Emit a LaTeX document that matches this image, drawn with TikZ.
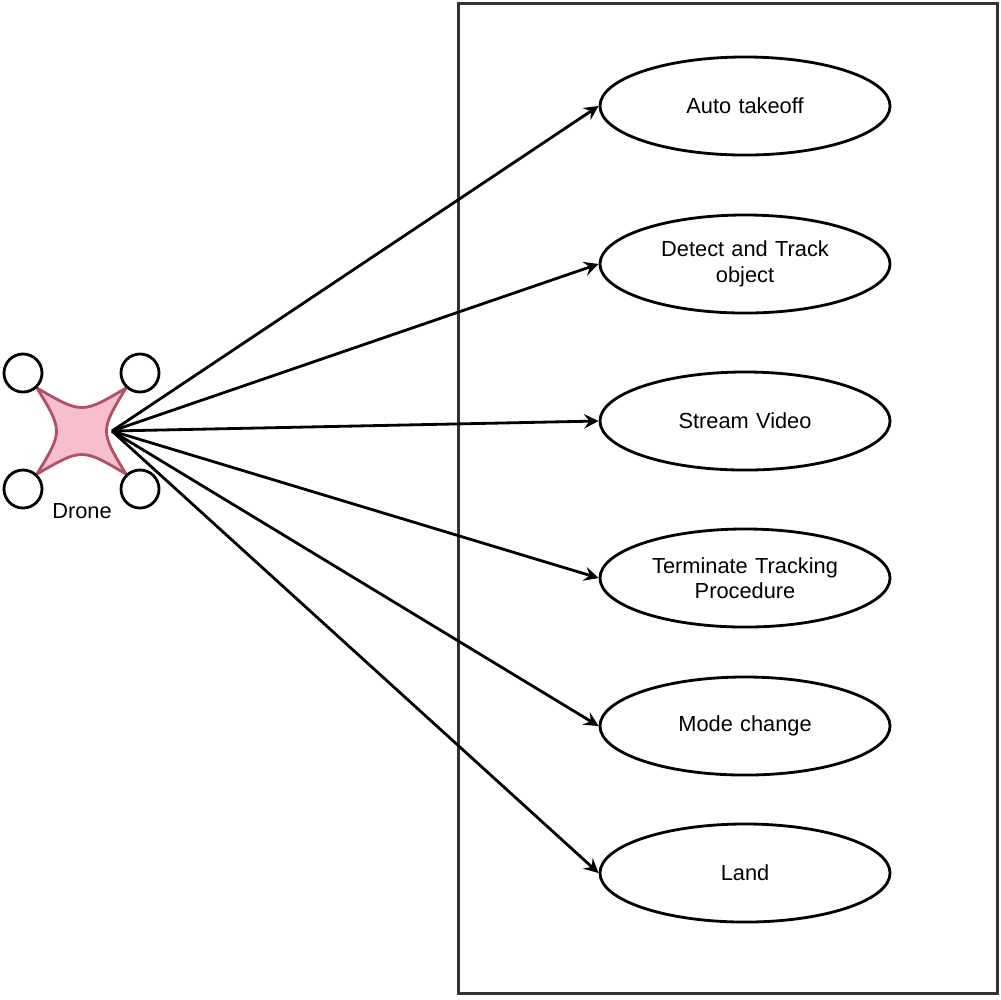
\documentclass[tikz,border=0pt]{standalone}
\usepackage{fontspec}
\setmainfont{Liberation Sans}
\usetikzlibrary{shapes.geometric}
\definecolor{dronefill}{RGB}{247,190,205}
\definecolor{droneedge}{RGB}{180,80,100}
\begin{document}
\begin{tikzpicture}[x=0.01cm, y=-0.01cm, font=\fontsize{6.2}{7.2}\selectfont]
% Styles
\tikzstyle{usecase} = [ellipse, draw=black, thick, minimum width=2.36cm, minimum height=0.98cm, align=center, inner sep=0pt, text width=2.05cm]
\tikzstyle{rotor} = [circle, draw=black, thick, minimum size=0.38cm, inner sep=0pt]
\tikzstyle{link} = [->, >=stealth, thick]

\useasboundingbox (0,0) rectangle (1001,999);

% System boundary
\node[draw=black!80, thick, minimum width=5.38cm, minimum height=9.89cm, inner sep=0pt] (system) at (728,498.5) {};

% Drone
\draw[thick, draw=droneedge, fill=dronefill] (37,388) .. controls (82,414) .. (126,388)
    .. controls (100,431) .. (126,474) .. controls (82,448) .. (37,474)
    .. controls (63,431) .. cycle;
\node[rotor, fill=white] (rotorA) at (23,373) {};
\node[rotor, fill=white] (rotorB) at (140,373) {};
\node[rotor, fill=white] (rotorC) at (23,489) {};
\node[rotor, fill=white] (rotorD) at (140,489) {};
\coordinate (drone) at (112,431);
\node (dronelabel) at (82,511) {Drone};

% Use cases
\node[usecase] (takeoff) at (745,106) {Auto takeoff};
\node[usecase] (track) at (745,264) {Detect and Track\\object};
\node[usecase] (stream) at (745,421) {Stream Video};
\node[usecase] (terminate) at (745,578) {Terminate Tracking\\Procedure};
\node[usecase] (mode) at (745,726) {Mode change};
\node[usecase] (land) at (745,873) {Land};

% Connectors
\foreach \target in {takeoff, track, stream, terminate, mode, land}
    \draw[link] (drone) -- (\target.west);
\end{tikzpicture}
\end{document}
